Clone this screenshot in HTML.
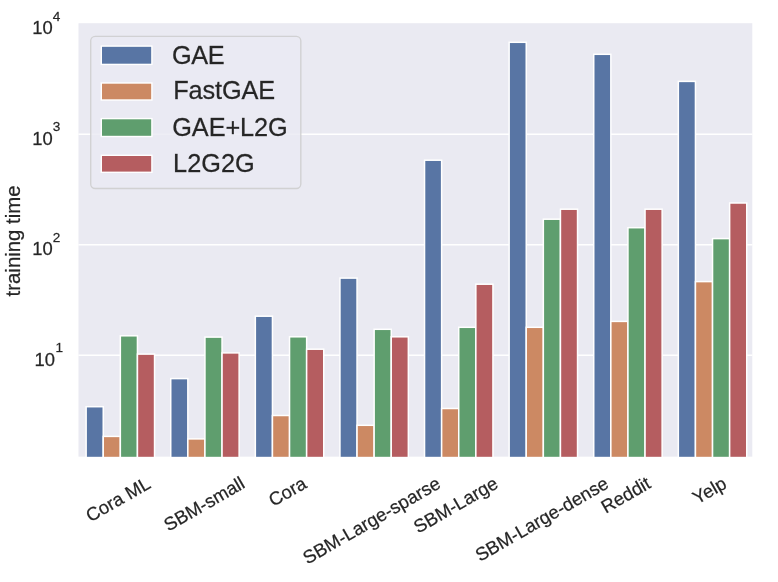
<!DOCTYPE html>
<html><head><meta charset="utf-8"><title>training time</title>
<style>
html,body{margin:0;padding:0;background:#fff;}
svg{display:block;}
text{font-family:"Liberation Sans",sans-serif;fill:#262626;stroke:#262626;stroke-width:0.3px;stroke-opacity:0.75;}
</style></head><body>
<svg width="778" height="582" viewBox="0 0 778 582">
<rect x="0" y="0" width="778" height="582" fill="#ffffff"/>
<rect x="78.5" y="23.2" width="673.80" height="433.60" fill="#EAEAF2"/>
<line x1="78.5" x2="752.3" y1="134.2" y2="134.2" stroke="#ffffff" stroke-width="1.4"/>
<line x1="78.5" x2="752.3" y1="244.7" y2="244.7" stroke="#ffffff" stroke-width="1.4"/>
<line x1="78.5" x2="752.3" y1="355.2" y2="355.2" stroke="#ffffff" stroke-width="1.4"/>
<g stroke="#ffffff" stroke-width="1.5">
<rect x="86.14" y="406.70" width="17.1" height="52.60" fill="#5875A4"/>
<rect x="103.24" y="436.40" width="17.1" height="22.90" fill="#CC8963"/>
<rect x="120.34" y="335.80" width="17.1" height="123.50" fill="#5F9E6E"/>
<rect x="137.44" y="354.10" width="17.1" height="105.20" fill="#B55D60"/>
<rect x="170.74" y="378.60" width="17.1" height="80.70" fill="#5875A4"/>
<rect x="187.84" y="438.90" width="17.1" height="20.40" fill="#CC8963"/>
<rect x="204.94" y="337.10" width="17.1" height="122.20" fill="#5F9E6E"/>
<rect x="222.04" y="352.90" width="17.1" height="106.40" fill="#B55D60"/>
<rect x="255.34" y="316.20" width="17.1" height="143.10" fill="#5875A4"/>
<rect x="272.44" y="415.50" width="17.1" height="43.80" fill="#CC8963"/>
<rect x="289.54" y="336.80" width="17.1" height="122.50" fill="#5F9E6E"/>
<rect x="306.64" y="349.20" width="17.1" height="110.10" fill="#B55D60"/>
<rect x="339.94" y="278.10" width="17.1" height="181.20" fill="#5875A4"/>
<rect x="357.04" y="425.30" width="17.1" height="34.00" fill="#CC8963"/>
<rect x="374.14" y="329.30" width="17.1" height="130.00" fill="#5F9E6E"/>
<rect x="391.24" y="336.80" width="17.1" height="122.50" fill="#B55D60"/>
<rect x="424.54" y="160.20" width="17.1" height="299.10" fill="#5875A4"/>
<rect x="441.64" y="408.50" width="17.1" height="50.80" fill="#CC8963"/>
<rect x="458.74" y="327.30" width="17.1" height="132.00" fill="#5F9E6E"/>
<rect x="475.84" y="284.20" width="17.1" height="175.10" fill="#B55D60"/>
<rect x="509.14" y="42.30" width="17.1" height="417.00" fill="#5875A4"/>
<rect x="526.24" y="327.30" width="17.1" height="132.00" fill="#CC8963"/>
<rect x="543.34" y="219.20" width="17.1" height="240.10" fill="#5F9E6E"/>
<rect x="560.44" y="209.20" width="17.1" height="250.10" fill="#B55D60"/>
<rect x="593.74" y="54.30" width="17.1" height="405.00" fill="#5875A4"/>
<rect x="610.84" y="321.40" width="17.1" height="137.90" fill="#CC8963"/>
<rect x="627.94" y="227.70" width="17.1" height="231.60" fill="#5F9E6E"/>
<rect x="645.04" y="209.20" width="17.1" height="250.10" fill="#B55D60"/>
<rect x="678.34" y="81.40" width="17.1" height="377.90" fill="#5875A4"/>
<rect x="695.44" y="281.60" width="17.1" height="177.70" fill="#CC8963"/>
<rect x="712.54" y="238.60" width="17.1" height="220.70" fill="#5F9E6E"/>
<rect x="729.64" y="203.00" width="17.1" height="256.30" fill="#B55D60"/>
</g>
<rect x="0" y="456.8" width="778" height="125.20" fill="#ffffff"/>
<text x="32.2" y="34.30" font-size="18.4">10<tspan dy="-13.6" dx="0.1" font-size="13.6">4</tspan></text>
<text x="32.2" y="144.80" font-size="18.4">10<tspan dy="-13.6" dx="0.1" font-size="13.6">3</tspan></text>
<text x="32.2" y="255.30" font-size="18.4">10<tspan dy="-13.6" dx="0.1" font-size="13.6">2</tspan></text>
<text x="34.6" y="365.80" font-size="18.4">10<tspan dy="-13.6" dx="0.5" font-size="13.6">1</tspan></text>
<text transform="translate(19.8,240.9) rotate(-90)" text-anchor="middle" font-size="20.4">training time</text>
<text transform="translate(118.84,500.68) rotate(-30)" text-anchor="middle" y="4.72" font-size="18.5">Cora ML</text>
<text transform="translate(204.94,505.31) rotate(-30)" text-anchor="middle" y="4.72" font-size="18.5">SBM-small</text>
<text transform="translate(288.24,492.97) rotate(-30)" text-anchor="middle" y="4.72" font-size="18.5">Cora</text>
<text transform="translate(372.34,521.76) rotate(-30)" text-anchor="middle" y="4.72" font-size="18.5">SBM-Large-sparse</text>
<text transform="translate(456.44,506.34) rotate(-30)" text-anchor="middle" y="4.72" font-size="18.5">SBM-Large</text>
<text transform="translate(542.54,520.48) rotate(-30)" text-anchor="middle" y="4.72" font-size="18.5">SBM-Large-dense</text>
<text transform="translate(626.54,496.32) rotate(-30)" text-anchor="middle" y="4.72" font-size="18.5">Reddit</text>
<text transform="translate(710.24,491.78) rotate(-30)" text-anchor="middle" y="4.72" font-size="18.5">Yelp</text>
<rect x="90.7" y="36.3" width="210.1" height="152.2" rx="4.5" ry="4.5" fill="#EAEAF2" fill-opacity="0.8" stroke="#CCCCCC" stroke-opacity="0.85" stroke-width="1.35"/>
<rect x="101.3" y="46.10" width="50.6" height="18.30" fill="#5875A4" stroke="#ffffff" stroke-width="1.4"/>
<text x="172.0" y="63.60" stroke-width="0.15" font-size="25.3" letter-spacing="-0.45">GAE</text>
<rect x="101.3" y="83.00" width="50.6" height="17.00" fill="#CC8963" stroke="#ffffff" stroke-width="1.4"/>
<text x="173.3" y="99.20" stroke-width="0.15" font-size="25.3" letter-spacing="-0.15">FastGAE</text>
<rect x="101.3" y="118.60" width="50.6" height="17.90" fill="#5F9E6E" stroke="#ffffff" stroke-width="1.4"/>
<text x="172.3" y="135.50" stroke-width="0.15" font-size="25.3" letter-spacing="-0.1">GAE+L2G</text>
<rect x="101.3" y="155.30" width="50.6" height="17.00" fill="#B55D60" stroke="#ffffff" stroke-width="1.4"/>
<text x="173.1" y="171.60" stroke-width="0.15" font-size="25.3" letter-spacing="0.0">L2G2G</text>
</svg>
</body></html>
